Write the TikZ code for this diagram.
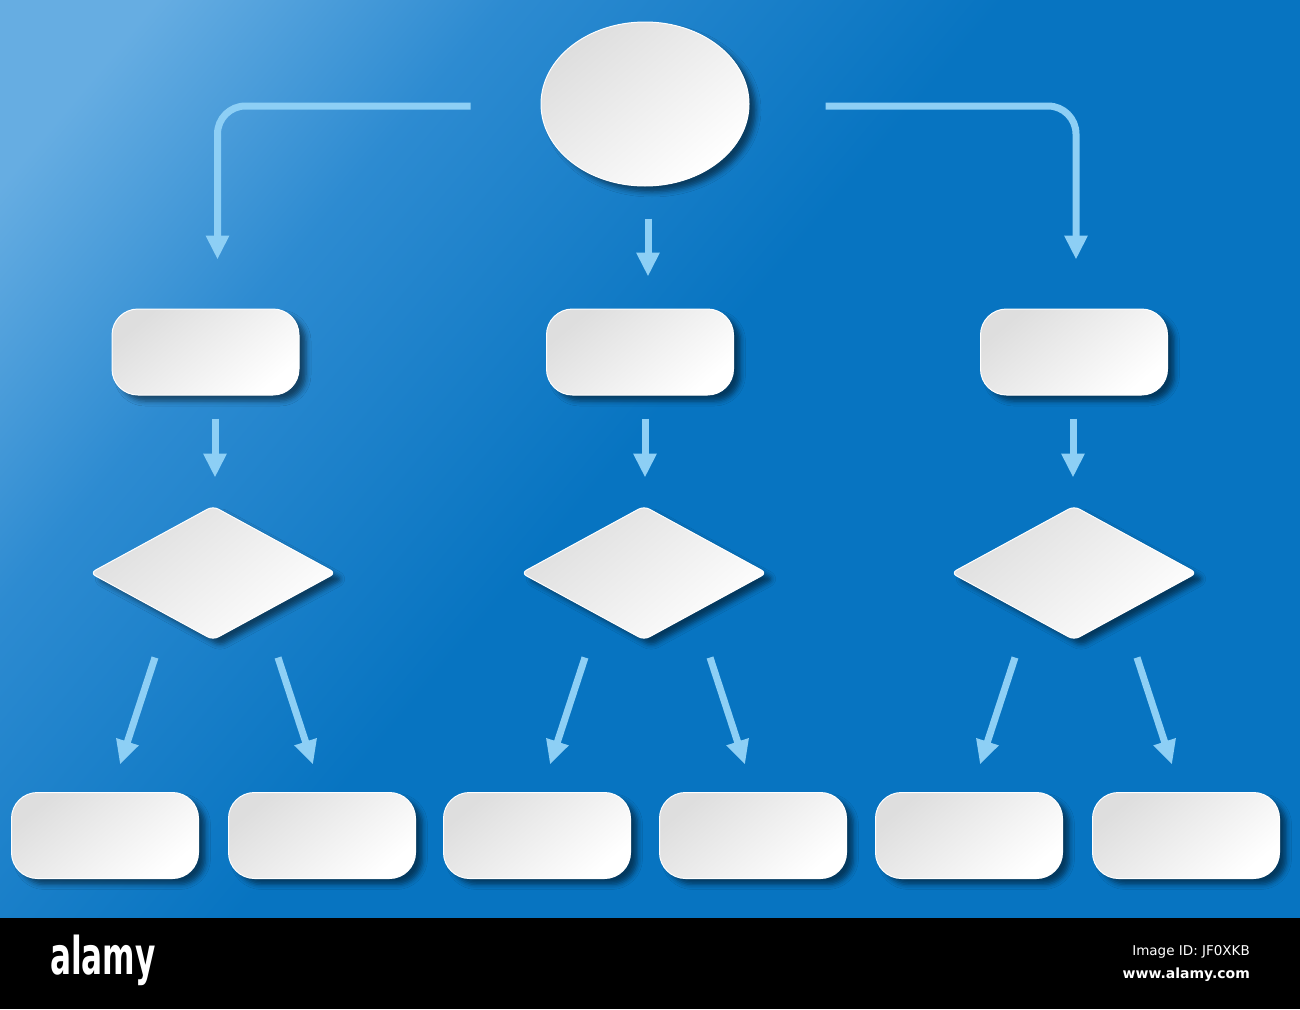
\documentclass[tikz,border=0pt]{standalone}
\usepackage{fontspec}
\newfontfamily\footfont{DejaVu Sans}
\usetikzlibrary{shapes.geometric, arrows.meta, calc, shadows.blur}
\definecolor{bgdark}{HTML}{0774C1}
\definecolor{bgmid}{HTML}{2D8BD1}
\definecolor{bglight}{HTML}{66ADE2}
\definecolor{arrowblue}{HTML}{8DCFF5}
\pgfdeclarehorizontalshading{bgshade}{100bp}{color(0bp)=(bglight); color(20bp)=(bglight); color(32bp)=(bgmid); color(49bp)=(bgdark); color(100bp)=(bgdark)}
\tikzset{
  card/.style={draw=white, line width=1pt, inner sep=0pt,
    top color=black!13, bottom color=white, shading angle=40,
    blur shadow={shadow xshift=7pt, shadow yshift=-6pt, shadow blur radius=5pt, shadow opacity=50}},
  roundbox/.style={card, rectangle, rounded corners=26pt, minimum width=187pt, minimum height=86pt},
  oval/.style={card, ellipse, minimum width=208pt, minimum height=164pt},
  decision/.style={card, diamond, shape aspect=1.84, rounded corners=6pt, minimum width=246pt, minimum height=134pt},
  arr/.style={draw=arrowblue, line width=7pt, -{Triangle[width=22pt,length=24pt]}},
  foot/.style={text=white, inner sep=0pt}
}
\begin{document}
\begin{tikzpicture}[x=1pt, y=-1pt]
\useasboundingbox (0,0) rectangle (1300,1009);
\shade[shading=bgshade, shading angle=-40] (0,0) rectangle (1300,918);
\fill[black] (0,918) rectangle (1300,1009);

% shapes
\node[oval] (e) at (645,104) {};
\node[roundbox] (m1) at (205.5,352) {};
\node[roundbox] (m2) at (640,352) {};
\node[roundbox] (m3) at (1074,352) {};
\node[decision] (d1) at (213,573) {};
\node[decision] (d2) at (644,573) {};
\node[decision] (d3) at (1074,573) {};
\node[roundbox] (b1) at (105,835.5) {};
\node[roundbox] (b2) at (322,835.5) {};
\node[roundbox] (b3) at (537,835.5) {};
\node[roundbox] (b4) at (753,835.5) {};
\node[roundbox] (b5) at (969,835.5) {};
\node[roundbox] (b6) at (1186,835.5) {};

% connectors
\draw[arr, rounded corners=28pt] ($(e.west)+(-70,2)$) -| ($(m1.north)+(12,-49)$);
\draw[arr, rounded corners=28pt] ($(e.east)+(76,2)$) -| ($(m3.north)+(2,-49)$);
\draw[arr] ($(e.south)+(3,32)$) -- ($(m2.north)+(8,-32)$);

\draw[arr] ($(m1.south)+(9.5,23)$) -- ($(d1.north)+(2,-28)$);
\draw[arr] ($(m2.south)+(5,23)$) -- ($(d2.north)+(1,-28)$);
\draw[arr] ($(m3.south)+(-1,23)$) -- ($(d3.north)+(-1,-28)$);

\draw[arr] ($(d1.south)+(-58,17)$) -- ($(b1.north)+(15,-27.5)$);
\draw[arr] ($(d1.south)+(65,17)$) -- ($(b2.north)+(-9,-27.5)$);
\draw[arr] ($(d2.south)+(-59,17)$) -- ($(b3.north)+(13,-27.5)$);
\draw[arr] ($(d2.south)+(66,17)$) -- ($(b4.north)+(-8,-27.5)$);
\draw[arr] ($(d3.south)+(-59,17)$) -- ($(b5.north)+(11,-27.5)$);
\draw[arr] ($(d3.south)+(63,17)$) -- ($(b6.north)+(-14,-27.5)$);

% footer
\node[foot, anchor=west, font=\footfont\bfseries\fontsize{52}{52}\selectfont, xscale=0.6] (logo) at (50,960) {alamy};
\node[foot, anchor=east, font=\footfont\fontsize{13.5}{13.5}\selectfont] (imgid) at (1250,952) {Image ID: JF0XKB};
\node[foot, anchor=east, font=\footfont\bfseries\fontsize{14}{14}\selectfont] (web) at (1250,975) {www.alamy.com};
\end{tikzpicture}
\end{document}
